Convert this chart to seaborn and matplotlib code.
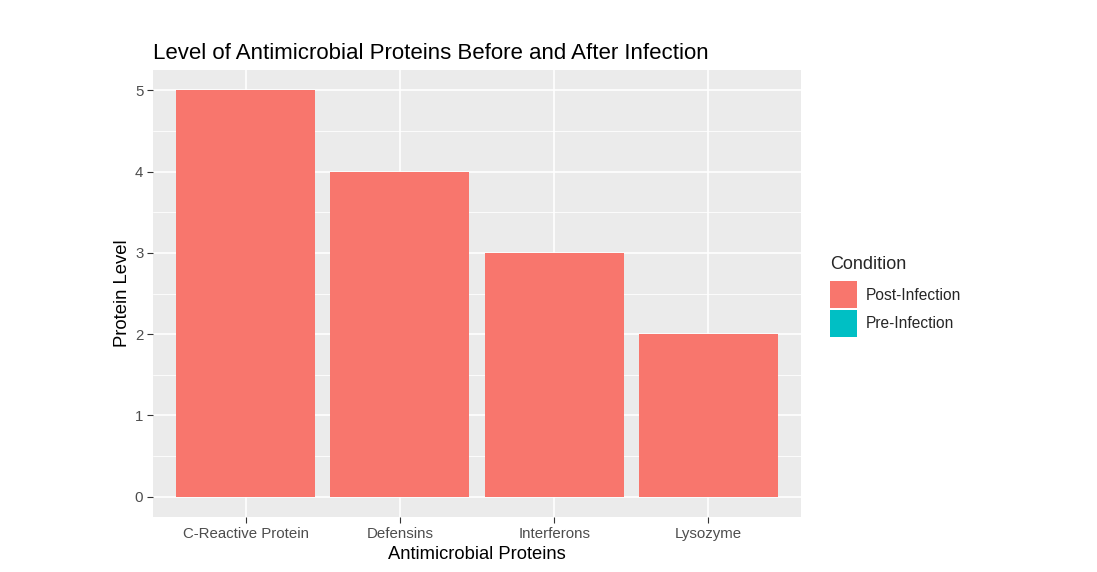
import seaborn as sns
import matplotlib.pyplot as plt
import pandas as pd
from matplotlib.patches import Patch

# Data
proteins = ['C-Reactive Protein', 'Defensins', 'Interferons', 'Lysozyme']
post_infection = [5, 4, 3, 2]
pre_infection = [0, 0, 0, 0]  # not visible in the chart (hidden behind the post bars)
conditions = ['Post-Infection', 'Pre-Infection']
colors = {'Post-Infection': '#F8766D', 'Pre-Infection': '#00BFC4'}

df = pd.DataFrame({
    'Protein': proteins * 2,
    'Condition': ['Pre-Infection'] * 4 + ['Post-Infection'] * 4,
    'Level': pre_infection + post_infection,
})

sns.set_style('white')
plt.rcParams['font.family'] = ['Liberation Sans', 'DejaVu Sans']

fig = plt.figure(figsize=(10.97, 5.72), dpi=100)
ax = fig.add_axes([153 / 1097, 55 / 572, 648 / 1097, 447 / 572])
ax.set_facecolor('#EBEBEB')

# ggplot-like grid
for y in [0.5, 1.5, 2.5, 3.5, 4.5]:
    ax.axhline(y, color='white', lw=0.6, zorder=0)
for y in range(6):
    ax.axhline(y, color='white', lw=1.2, zorder=0)
for x in range(4):
    ax.axvline(x, color='white', lw=1.2, zorder=0)

sns.barplot(data=df, x='Protein', y='Level', hue='Condition', order=proteins,
            hue_order=['Pre-Infection', 'Post-Infection'], palette=colors,
            dodge=False, width=0.9, saturation=1, legend=False, ax=ax,
            linewidth=0, edgecolor='none')
for p in ax.patches:
    p.set_zorder(2)

ax.set_xlim(-0.6, 3.6)
ax.set_ylim(-0.25, 5.25)
ax.set_yticks(range(6))
for s in ax.spines.values():
    s.set_visible(False)
ax.tick_params(axis='both', length=4, width=0.8, color='#333333',
               labelcolor='#4D4D4D', labelsize=10.8, pad=3, left=True, bottom=True)

ax.set_xlabel('Antimicrobial Proteins', fontsize=13.2, color='black', labelpad=4)
ax.set_ylabel('Protein Level', fontsize=13.3, color='black', labelpad=3)
ax.set_title('Level of Antimicrobial Proteins Before and After Infection',
             fontsize=16, loc='left', pad=8, color='black')

handles = [Patch(facecolor=colors[c], edgecolor='none') for c in conditions]
leg = fig.legend(handles, conditions, title='Condition', loc='upper left',
                 bbox_to_anchor=(816 / 1097, 1 - 242 / 572), frameon=False,
                 fontsize=11.2, title_fontsize=13, handlelength=1.73, handleheight=2.29,
                 labelspacing=0.1, handletextpad=0.6, alignment='left')
# a bit more room between the legend title and the keys
leg._legend_box.sep = 6

fig.savefig('out.png', dpi=100)
